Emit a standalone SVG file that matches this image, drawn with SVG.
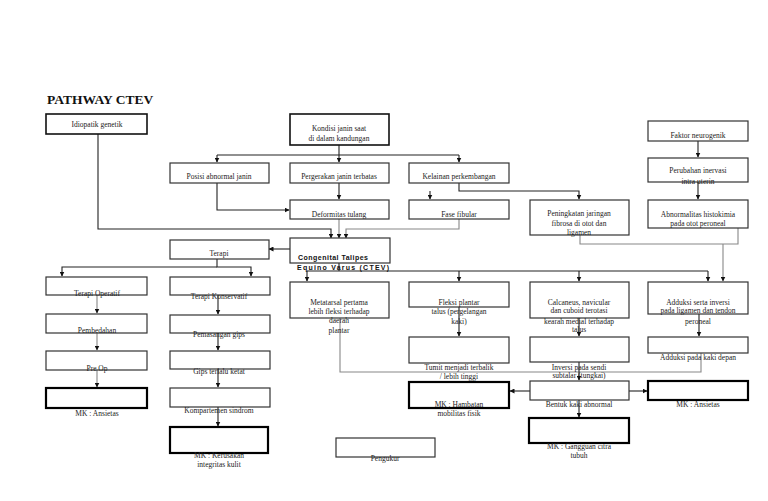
<svg xmlns="http://www.w3.org/2000/svg" width="768" height="501" viewBox="0 0 768 501">
<style>
.b{fill:#fff;stroke:#333;stroke-width:1.2}
.k{fill:#fff;stroke:#000;stroke-width:2.2}
.t{font-family:"Liberation Serif","Times New Roman",serif;font-size:7.5px;fill:#222;text-anchor:middle}
.h{font-family:"Liberation Serif","Times New Roman",serif;font-size:13.5px;font-weight:bold;fill:#111}
.c{font-family:"Liberation Sans",Arial,sans-serif;font-size:7px;font-weight:bold;fill:#111}
.l{fill:none;stroke:#222;stroke-width:1.1}
.g{fill:none;stroke:#888;stroke-width:1.1}
</style>
<defs>
<marker id="a" markerWidth="5" markerHeight="5" refX="4.5" refY="2.5" orient="auto" markerUnits="userSpaceOnUse"><path d="M0,0 L5,2.5 L0,5 z" fill="#111"/></marker>
</defs>
<rect width="768" height="501" fill="#fff"/>
<text class="h" x="47" y="104">PATHWAY CTEV</text>

<g id="connectors">
<path class="l" d="M98,134 V229 H331 V238" marker-end="url(#a)"/>
<path class="l" d="M339,145 V155" />
<path class="l" d="M217,155 H459"/>
<path class="l" d="M217,155 V162" marker-end="url(#a)"/>
<path class="l" d="M339,155 V162" marker-end="url(#a)"/>
<path class="l" d="M459,155 V162" marker-end="url(#a)"/>
<path class="l" d="M217,183 V210 H289" marker-end="url(#a)"/>
<path class="l" d="M339,183 V199" marker-end="url(#a)"/>
<path class="l" d="M459,183 V191 H579 V199" marker-end="url(#a)"/>
<path class="l" d="M430,191 V199" marker-end="url(#a)"/>
<path class="g" d="M339,219 V238" marker-end="url(#a)"/>
<path class="g" d="M459,219 V229 H346 V238" marker-end="url(#a)"/>
<path class="l" d="M698,141 V157" marker-end="url(#a)"/>
<path class="l" d="M698,182 V199" marker-end="url(#a)"/>
<path class="g" d="M580,235 V244 H738 V228"/>
<path class="g" d="M723,244 V281" marker-end="url(#a)"/>
<path class="l" d="M290,249 H269" marker-end="url(#a)"/>
<path class="l" d="M339,263 V271"/>
<path class="l" d="M307,271 H708"/>
<path class="l" d="M307,271 V281" marker-end="url(#a)"/>
<path class="l" d="M459,271 V281" marker-end="url(#a)"/>
<path class="l" d="M579,271 V281" marker-end="url(#a)"/>
<path class="l" d="M708,271 V281" marker-end="url(#a)"/>
<path class="l" d="M217,259 V267 H251 V276" marker-end="url(#a)"/>
<path class="l" d="M217,267 H62 V276" marker-end="url(#a)"/>
<path class="g" d="M97,295 V313" marker-end="url(#a)"/>
<path class="g" d="M97,333 V350" marker-end="url(#a)"/>
<path class="g" d="M97,370 V387" marker-end="url(#a)"/>
<path class="l" d="M218,295 V314" marker-end="url(#a)"/>
<path class="l" d="M218,333 V350" marker-end="url(#a)"/>
<path class="l" d="M218,369 V387" marker-end="url(#a)"/>
<path class="l" d="M218,407 V426" marker-end="url(#a)"/>
<path class="g" d="M340,318 V372 H701 V353"/>
<path class="l" d="M459,307 V336" marker-end="url(#a)"/>
<path class="l" d="M579,318 V336" marker-end="url(#a)"/>
<path class="l" d="M699,314 V336" marker-end="url(#a)"/>
<path class="l" d="M579,362 V380" marker-end="url(#a)"/>
<path class="l" d="M530,391 H510" marker-end="url(#a)"/>
<path class="l" d="M629,391 H647" marker-end="url(#a)"/>
<path class="l" d="M579,400 V417" marker-end="url(#a)"/>
</g>

<g id="n-idiopatik"><rect class="b" x="46" y="114" width="101" height="20" style="stroke-width:1.6;stroke:#111"/><text class="t" x="97" y="127">Idiopatik genetik</text></g>
<g id="n-kondisi"><rect class="b" x="290" y="114" width="99" height="31" style="stroke-width:1.6;stroke:#111"/><text class="t" x="339" y="130.5">Kondisi janin saat</text><text class="t" x="339" y="140.5">di dalam kandungan</text></g>
<g id="n-faktor"><rect class="b" x="648" y="121" width="100" height="20"/><text class="t" x="698" y="137.5">Faktor neurogenik</text></g>
<g id="n-perubahan"><rect class="b" x="648" y="158" width="100" height="24"/><text class="t" x="698" y="172.5">Perubahan inervasi</text><text class="t" x="698" y="183.5">intra uterin</text></g>
<g id="n-posisi"><rect class="b" x="170" y="163" width="99" height="20"/><text class="t" x="219" y="178.5">Posisi abnormal janin</text></g>
<g id="n-pergerakan"><rect class="b" x="290" y="163" width="99" height="20"/><text class="t" x="339" y="178.5">Pergerakan janin terbatas</text></g>
<g id="n-kelainan"><rect class="b" x="409" y="163" width="100" height="20"/><text class="t" x="459" y="178.5">Kelainan perkembangan</text></g>
<g id="n-deformitas"><rect class="b" x="290" y="200" width="99" height="19"/><text class="t" x="339" y="216.5">Deformitas tulang</text></g>
<g id="n-fase"><rect class="b" x="409" y="200" width="100" height="19"/><text class="t" x="459" y="216.5">Fase fibular</text></g>
<g id="n-peningkatan"><rect class="b" x="530" y="200" width="99" height="35"/><text class="t" x="579" y="215.5">Peningkatan jaringan</text><text class="t" x="579" y="225.5">fibrosa di otot dan</text><text class="t" x="579" y="234.5">ligamen</text></g>
<g id="n-abnormalitas"><rect class="b" x="648" y="200" width="100" height="28"/><text class="t" x="698" y="216.5">Abnormalitas histokimia</text><text class="t" x="698" y="225.5">pada otot peroneal</text></g>
<g id="n-terapi"><rect class="b" x="170" y="240" width="99" height="19"/><text class="t" x="219" y="255.5">Terapi</text></g>
<g id="n-ctev"><rect class="b" x="290" y="238" width="100" height="25"/><text class="c" x="298" y="260" textLength="70" lengthAdjust="spacing">Congenital Talipes</text><text class="c" x="297" y="270" textLength="92" lengthAdjust="spacing">Equino   Varus (CTEV)</text></g>
<g id="n-operatif"><rect class="b" x="46" y="277" width="101" height="18"/><text class="t" x="97" y="296">Terapi Operatif</text></g>
<g id="n-konservatif"><rect class="b" x="170" y="277" width="100" height="18"/><text class="t" x="219" y="298.5">Terapi Konservatif</text></g>
<g id="n-metatarsal"><rect class="b" x="290" y="282" width="99" height="36"/><text class="t" x="339" y="304.5">Metatarsal pertama</text><text class="t" x="339" y="313.5">lebih fleksi terhadap</text><text class="t" x="339" y="322.5">daerah</text><text class="t" x="339" y="332.5">plantar</text></g>
<g id="n-fleksi"><rect class="b" x="409" y="282" width="100" height="25"/><text class="t" x="459" y="304.5">Fleksi plantar</text><text class="t" x="459" y="313.5">talus (pergelangan</text><text class="t" x="459" y="323.5">kaki)</text></g>
<g id="n-calcaneus"><rect class="b" x="530" y="282" width="99" height="36"/><text class="t" x="579" y="304.5">Calcaneus, navicular</text><text class="t" x="579" y="312.5">dan cuboid terotasi</text><text class="t" x="579" y="323.5">kearah medial terhadap</text><text class="t" x="579" y="331.5">talus</text></g>
<g id="n-adduksi"><rect class="b" x="648" y="282" width="100" height="32"/><text class="t" x="698" y="304.5">Adduksi serta inversi</text><text class="t" x="698" y="312.5">pada ligamen dan tendon</text><text class="t" x="698" y="323.5">peroneal</text></g>
<g id="n-pembedahan"><rect class="b" x="46" y="314" width="101" height="19"/><text class="t" x="97" y="332.5">Pembedahan</text></g>
<g id="n-pemasangan"><rect class="b" x="170" y="315" width="100" height="18"/><text class="t" x="219" y="337">Pemasangan gips</text></g>
<g id="n-preop"><rect class="b" x="46" y="351" width="101" height="19"/><text class="t" x="97" y="370.5">Pre Op</text></g>
<g id="n-gips"><rect class="b" x="170" y="351" width="100" height="18"/><text class="t" x="219" y="374">Gips terlalu ketat</text></g>
<g id="n-tumit"><rect class="b" x="409" y="337" width="100" height="26"/><text class="t" x="459" y="369.5">Tumit menjadi terbalik</text><text class="t" x="459" y="378.5">/ lebih tinggi</text></g>
<g id="n-inversi"><rect class="b" x="530" y="337" width="99" height="25"/><text class="t" x="579" y="369.5">Inversi pada sendi</text><text class="t" x="579" y="377.5">subtalar (tungkai)</text></g>
<g id="n-kakidepan"><rect class="b" x="648" y="337" width="100" height="16"/><text class="t" x="698" y="359.5">Adduksi pada kaki depan</text></g>
<g id="n-mk-ansietas1"><rect class="k" x="46" y="388" width="101" height="20"/><text class="t" x="97" y="415.5">MK : Ansietas</text></g>
<g id="n-kompartemen"><rect class="b" x="170" y="388" width="100" height="19"/><text class="t" x="219" y="413">Kompartemen sindrom</text></g>
<g id="n-mk-hambatan"><rect class="k" x="409" y="382" width="100" height="26"/><text class="t" x="459" y="406.5">MK : Hambatan</text><text class="t" x="459" y="415.5">mobilitas fisik</text></g>
<g id="n-bentuk"><rect class="b" x="530" y="381" width="99" height="19"/><text class="t" x="579" y="406.5">Bentuk kaki abnormal</text></g>
<g id="n-mk-ansietas2"><rect class="k" x="648" y="381" width="100" height="19"/><text class="t" x="698" y="406.5">MK : Ansietas</text></g>
<g id="n-mk-gangguan"><rect class="k" x="529" y="418" width="100" height="25"/><text class="t" x="579" y="448.5">MK : Gangguan citra</text><text class="t" x="579" y="457.5">tubuh</text></g>
<g id="n-mk-kerusakan"><rect class="k" x="170" y="427" width="98" height="26"/><text class="t" x="219" y="457.5">MK : Kerusakan</text><text class="t" x="219" y="466.5">integritas kulit</text></g>
<g id="n-pengukur"><rect class="b" x="336" y="438" width="99" height="19"/><text class="t" x="385" y="460.5">Pengukur</text></g>
</svg>
